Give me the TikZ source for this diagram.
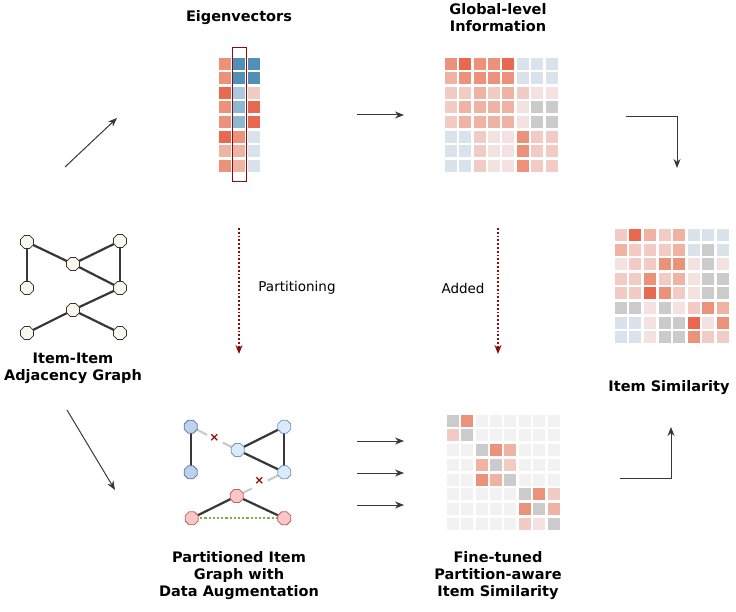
\documentclass[tikz,border=0pt]{standalone}
\usepackage{fontspec}
\setmainfont{DejaVu Sans}
\usetikzlibrary{shapes.geometric,arrows.meta,calc}
\definecolor{R1}{RGB}{232,105,80}
\definecolor{R2}{RGB}{236,145,122}
\definecolor{R3}{RGB}{240,178,162}
\definecolor{R4}{RGB}{242,204,196}
\definecolor{R5}{RGB}{243,226,224}
\definecolor{B1}{RGB}{80,145,185}
\definecolor{B2}{RGB}{142,183,210}
\definecolor{B3}{RGB}{172,200,220}
\definecolor{B4}{RGB}{218,227,235}
\definecolor{G}{RGB}{203,203,203}
\definecolor{W}{RGB}{242,242,242}
\definecolor{darkred}{RGB}{140,10,10}
\definecolor{edgec}{RGB}{55,55,55}
\definecolor{greenc}{RGB}{120,175,80}
\definecolor{nodeW}{RGB}{248,248,238}
\definecolor{nodeDB}{RGB}{190,210,235}
\definecolor{nodeLB}{RGB}{220,235,250}
\definecolor{nodeP}{RGB}{248,200,200}
\definecolor{bdDB}{RGB}{90,120,170}
\definecolor{bdLB}{RGB}{110,150,200}
\definecolor{bdP}{RGB}{200,90,90}
\tikzset{
 gn/.style={regular polygon,regular polygon sides=8,draw=#1,line width=0.8pt,minimum size=14pt,inner sep=0pt},
 ed/.style={line width=2.2pt,draw=edgec},
 ar/.style={-{Stealth[length=9pt,width=7pt]},line width=1pt,draw=edgec},
 dar/.style={-{Stealth[length=9pt,width=7pt]},line width=1.8pt,darkred,dotted},
 ttl/.style={font=\fontsize{14.5}{17}\selectfont\bfseries,align=center},
 lbl/.style={font=\fontsize{13.5}{16}\selectfont},
}
\newcommand{\mymat}[5]{% x0 y0 dx dy rows
 \foreach \row [count=\i] in {#5} {
  \foreach \c [count=\j] in \row {
   \fill[\c] ({#1+(\j-1)*#3-6},{#2+(\i-1)*#4-6}) rectangle ++(12,12);
  }
 }
}
\begin{document}
\begin{tikzpicture}[x=1pt,y=-1pt]
\useasboundingbox (0,0) rectangle (736,612);
% eigenvectors
\mymat{224.7}{63.7}{14.4}{14.6}{{R2,B1,B1},{R2,B1,B1},{R1,B3,R4},{R2,B2,R1},{R2,B2,R1},{R1,R2,B4},{R3,R3,B4},{R2,R3,B4}}
\draw[darkred,line width=1pt] (232,48) rectangle (246.5,182);
% global
\mymat{450.7}{63.7}{14.4}{14.6}{{R2,R1,R2,R2,R1,B4,B4,B4},{R3,R2,R2,R2,R2,B4,B4,B4},{R4,R4,R3,R4,R3,R4,R5,R5},{R4,R3,R3,R3,R3,R5,G,G},{R4,R3,R3,R3,R3,R5,G,G},{B4,B4,R4,R5,R5,R2,R4,R4},{B4,B4,R4,R5,R5,R2,R4,R4},{B4,B4,R4,R5,R5,R2,R4,R4}}
% item similarity
\mymat{620.7}{235}{14.6}{14.6}{{R4,R1,R3,R4,R3,B4,B4,B4},{R3,R4,R4,R4,R3,B4,G,B4},{R5,R4,R4,R2,R2,R5,G,R5},{R4,R4,R2,R4,R3,R5,G,G},{R4,R4,R1,R2,R4,R5,G,G},{G,G,R5,G,R5,R4,R2,R3},{B4,B4,R5,G,G,R1,R5,R2},{B4,B4,R5,G,G,R2,R4,R4}}
% fine-tuned
\mymat{452.7}{420.7}{14.4}{14.7}{{G,R2,W,W,W,W,W,W},{R4,G,W,W,W,W,W,W},{W,W,G,R2,R3,W,W,W},{W,W,R3,G,R4,W,W,W},{W,W,R2,R3,G,W,W,W},{W,W,W,W,W,G,R2,R4},{W,W,W,W,W,R2,G,R3},{W,W,W,W,W,R4,R5,G}}
% left graph
\foreach \n/\x/\y in {a/27/242,b/27/288,c/73/264,d/120/241,e/120/288,f/73/310,g/27/333,h/120/333}
  \coordinate (\n) at (\x,\y);
\foreach \u/\v in {a/b,a/c,c/d,d/e,c/e,e/f,f/g,f/h} \draw[ed] (\u) -- (\v);
\foreach \n in {a,b,c,d,e,f,g,h}
  \node[gn=black!80,fill=nodeW] (n\n) at (\n) {};
% partitioned graph
\coordinate (pA) at (190.7,426.7); \coordinate (pB) at (190.7,472.3);
\coordinate (pC) at (237.7,450); \coordinate (pD) at (284.3,426.7);
\coordinate (pE) at (284.3,472.3); \coordinate (pF) at (236.7,496);
\coordinate (pG) at (191.7,518.3); \coordinate (pH) at (284.3,518.3);
\draw[ed] (pA)--(pB); \draw[ed] (pC)--(pD); \draw[ed] (pD)--(pE); \draw[ed] (pC)--(pE);
\draw[ed] (pF)--(pG); \draw[ed] (pF)--(pH);
\draw[line width=2.2pt,dotted,greenc] (pG)--(pH);
\draw[G,line width=2.2pt] (pA) -- ($(pA)!0.35!(pC)$);
\draw[G,line width=2.2pt] ($(pA)!0.68!(pC)$) -- (pC);
\draw[G,line width=2.2pt] (pE) -- ($(pE)!0.35!(pF)$);
\draw[G,line width=2.2pt] ($(pE)!0.68!(pF)$) -- (pF);
\node[gn=bdDB,fill=nodeDB] (nA) at (pA) {};
\node[gn=bdDB,fill=nodeDB] (nB) at (pB) {};
\node[gn=bdLB,fill=nodeLB] (nC) at (pC) {};
\node[gn=bdLB,fill=nodeLB] (nD) at (pD) {};
\node[gn=bdLB,fill=nodeLB] (nE) at (pE) {};
\node[gn=bdP,fill=nodeP] (nF) at (pF) {};
\node[gn=bdP,fill=nodeP] (nG) at (pG) {};
\node[gn=bdP,fill=nodeP] (nH) at (pH) {};
\node[darkred,font=\bfseries\fontsize{12}{12}\selectfont,inner sep=0pt] (x1) at (214.3,438.3) {×};
\node[darkred,font=\bfseries\fontsize{12}{12}\selectfont,inner sep=0pt] (x2) at (259.3,481) {×};
% arrows
\coordinate (a1s) at (65,167); \coordinate (a1e) at (117,118);
\draw[ar] (a1s) -- (a1e);
\coordinate (a2s) at (357,115); \coordinate (a2e) at (404,115);
\draw[ar] (a2s) -- (a2e);
\coordinate (a3s) at (626,117); \coordinate (a3e) at (677,168);
\draw[ar] (a3s) -| (a3e);
\coordinate (a4s) at (67,410); \coordinate (a4e) at (115,490);
\draw[ar] (a4s) -- (a4e);
\foreach \y in {441,473,505} {\coordinate (s\y) at (357,\y); \coordinate (e\y) at (404,\y); \draw[ar] (s\y) -- (e\y);}
\coordinate (a5s) at (620,478); \coordinate (a5e) at (671,427);
\draw[ar] (a5s) -| (a5e);
\coordinate (d1s) at (239,228); \coordinate (d1e) at (239,354);
\draw[dar] (d1s) -- (d1e);
\coordinate (d2s) at (498,228); \coordinate (d2e) at (498,354);
\draw[dar] (d2s) -- (d2e);
% labels
\node[lbl] (lp) at (297,288) {Partitioning};
\node[lbl] (la) at (463,288) {Added};
\node[ttl] (t1) at (239,18) {Eigenvectors};
\node[ttl] (t2) at (498,18) {Global-level\\Information};
\node[ttl] (t3) at (73,368) {Item-Item\\Adjacency Graph};
\node[ttl] (t4) at (669,388) {Item Similarity};
\node[ttl] (t5) at (239,576) {Partitioned Item\\Graph with\\Data Augmentation};
\node[ttl] (t6) at (498,576) {Fine-tuned\\Partition-aware\\Item Similarity};
\end{tikzpicture}
\end{document}
